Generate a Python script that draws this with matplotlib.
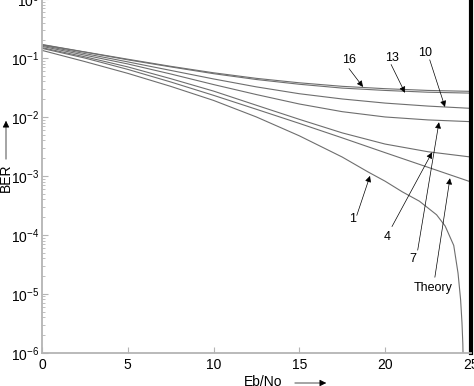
import matplotlib
matplotlib.use("Agg")
import matplotlib.pyplot as plt
from matplotlib.ticker import LogLocator, NullFormatter, FixedLocator

plt.rcParams['font.family'] = ['Liberation Sans', 'DejaVu Sans']
plt.rcParams['mathtext.fontset'] = 'custom'
plt.rcParams['mathtext.rm'] = 'Liberation Sans'
plt.rcParams['mathtext.it'] = 'Liberation Sans:italic'
plt.rcParams['mathtext.bf'] = 'Liberation Sans:bold'

# ---- data ----
ebno = [0, 2.5, 5, 7.5, 10, 12.5, 15, 17.5, 20, 22.5, 25]
ber_16 = [0.170, 0.127, 0.0955, 0.0724, 0.0562, 0.0452, 0.0380, 0.0331, 0.0302, 0.0282, 0.0272]
ber_13 = [0.168, 0.126, 0.0933, 0.0708, 0.0543, 0.0432, 0.0359, 0.0309, 0.0282, 0.0263, 0.0254]
ber_10 = [0.164, 0.119, 0.0861, 0.0617, 0.0442, 0.0324, 0.0248, 0.0202, 0.0172, 0.0153, 0.0140]
ber_7 = [0.158, 0.112, 0.0794, 0.0537, 0.0355, 0.0240, 0.0166, 0.0123, 0.0100, 0.00891, 0.00832]
ber_4 = [0.150, 0.105, 0.0708, 0.0447, 0.0275, 0.0158, 0.00912, 0.00537, 0.00347, 0.00257, 0.00209]
ber_theory = [0.146, 0.100, 0.0642, 0.0393, 0.0233, 0.0135, 0.00778, 0.00442, 0.00248, 0.00140, 0.00079]

ebno_1 = [0, 2.5, 5, 7.5, 10, 12.5, 15, 17.5, 19, 20, 21, 22, 23, 23.5, 24, 24.25, 24.4, 24.48, 24.53, 24.56]
ber_1 = [0.135, 0.0871, 0.0550, 0.0331, 0.0191, 0.0100, 0.00479, 0.00209, 0.00117, 0.000813,
         0.000537, 0.000372, 0.000219, 0.000141, 6.61e-5, 2.24e-5, 7.94e-6, 3.24e-6, 1.41e-6, 5.0e-7]

x_ticks = [0, 5, 10, 15, 20, 25]
y_ticks = [1e-6, 1e-5, 1e-4, 1e-3, 1e-2, 1e-1, 1e0]

# labels: (text, text position, arrow tail, arrow head) in data coords
labels = [
    ("16", (17.9, 10**-1.04), (17.9, 10**-1.18), (18.71, 10**-1.49)),
    ("13", (20.4, 10**-1.0), (20.35, 10**-1.11), (21.16, 10**-1.59)),
    ("10", (22.35, 10**-0.92), (22.6, 10**-1.03), (23.49, 10**-1.83)),
    ("7", (21.6, 10**-4.41), (21.9, 10**-4.26), (23.14, 10**-2.09)),
    ("4", (20.1, 10**-4.04), (20.4, 10**-3.86), (22.74, 10**-2.60)),
    ("1", (18.1, 10**-3.73), (18.35, 10**-3.67), (19.12, 10**-3.0)),
    ("Theory", (22.8, 10**-4.9), (22.9, 10**-4.72), (23.78, 10**-3.04)),
]

W, H = 474, 386
fig = plt.figure(figsize=(W / 100, H / 100), dpi=100)
ax = fig.add_axes([41.9 / W, (H - 352.7) / H, 429.0 / W, 353.6 / H])

line_kw = dict(color='#6e6e6e', lw=0.8)
for yv in (ber_16, ber_13, ber_10, ber_7, ber_4, ber_theory):
    ax.plot(ebno, yv, **line_kw)
ax.plot(ebno_1, ber_1, **line_kw)

ax.set_yscale('log')
ax.set_xlim(0, 25)
ax.set_ylim(1e-6, 1)
ax.xaxis.set_major_locator(FixedLocator(x_ticks))
ax.yaxis.set_major_locator(FixedLocator(y_ticks))
ax.yaxis.set_minor_locator(LogLocator(base=10, subs=range(2, 10)))
ax.yaxis.set_minor_formatter(NullFormatter())

gray = '#b4b4b4'
for s in ('left', 'bottom', 'top'):
    ax.spines[s].set_color(gray)
    ax.spines[s].set_linewidth(1.3)
ax.spines['right'].set_color('black')
ax.spines['right'].set_linewidth(3.0)

ax.tick_params(axis='both', which='major', direction='in', length=4, width=0.8,
               color=gray, labelsize=10, labelcolor='black', pad=4)
ax.tick_params(axis='y', which='minor', direction='in', length=2, width=0.6, color=gray)
ax.tick_params(axis='y', which='major', pad=2)

for txt, tpos, tail, head in labels:
    ax.text(tpos[0], tpos[1], txt, fontsize=9, ha='center', va='center')
    ax.annotate('', xy=head, xytext=tail,
                arrowprops=dict(arrowstyle='-|>', color='black', lw=0.5,
                                mutation_scale=9, shrinkA=0, shrinkB=0))

# axis labels with arrows
fig.text(263 / W, 1 - 382 / H, 'Eb/No', fontsize=10, ha='center', va='center')
fig.patches.append(matplotlib.patches.FancyArrowPatch(
    (292 / W, 1 - 383 / H), (329 / W, 1 - 383 / H), transform=fig.transFigure,
    arrowstyle='-|>', mutation_scale=10, color='black', lw=0.5))
fig.text(6 / W, 1 - 178 / H, 'BER', fontsize=10, rotation=90, ha='center', va='center')
fig.patches.append(matplotlib.patches.FancyArrowPatch(
    (6 / W, 1 - 162 / H), (6 / W, 1 - 118 / H), transform=fig.transFigure,
    arrowstyle='-|>', mutation_scale=10, color='black', lw=0.5))

fig.savefig('out.png', dpi=100)
